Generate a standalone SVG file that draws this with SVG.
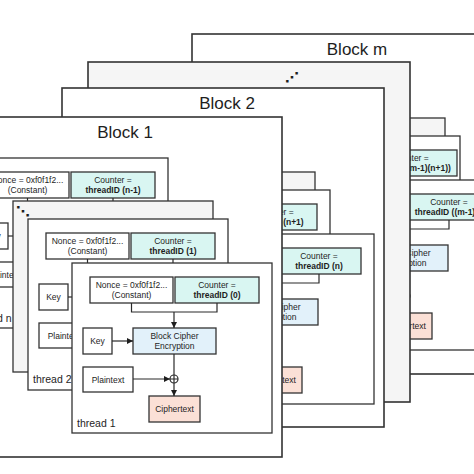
<svg xmlns="http://www.w3.org/2000/svg" width="474" height="474" viewBox="0 0 474 474">
<style>
.bx{stroke:#333;stroke-width:1.3}
.blkbox{stroke:#333;stroke-width:1.6}
.w{fill:#fff}.g{fill:#f5f5f5}.cnt{fill:#d9f6f2}.bc{fill:#e2f1fa}.ct{fill:#fbe0d6}
text{font-family:"Liberation Sans",Arial,sans-serif;fill:#1e1e1e}
.t{font-size:8.5px;text-anchor:middle}
.b{font-weight:bold}
.lbl{font-size:10.5px}
.blk{font-size:17px;text-anchor:middle}
.dots{font-family:"DejaVu Sans",sans-serif;font-size:14px;font-weight:bold}
.ln{fill:none;stroke:#2a2a2a;stroke-width:1.2}
.ar{fill:none;stroke:#2a2a2a;stroke-width:1.2;marker-end:url(#ah)}
</style>
<defs>
<marker id="ah" viewBox="0 0 10 10" refX="10" refY="5" markerWidth="6" markerHeight="6" markerUnits="userSpaceOnUse" orient="auto"><path d="M0,0 L10,5 L0,10 z" fill="#1e1e1e"/></marker>
</defs>

<!-- Block m -->
<g id="block-m" transform="translate(192,34)">
  <rect class="blkbox w" x="0" y="0" width="322" height="340"/>
  <text class="blk" x="165" y="21">Block m</text>
  <g id="bm-thread-dots" transform="translate(53,84)"><rect class="bx g" x="0" y="0" width="200" height="170"/></g>
  <g id="bm-thread-2" transform="translate(68,102)">
    <rect class="bx w" x="0" y="0" width="200" height="170"/>
    <rect class="bx cnt" x="107" y="14" width="90" height="26"/>
    <text class="t" x="150" y="25">Counter =</text>
    <text class="t b" x="149" y="35">threadID ((m-1)(n+1))</text>
  </g>
  <g id="bm-thread-1" transform="translate(112,146)">
    <rect class="bx w" x="0" y="0" width="200" height="170"/>
    <rect class="bx cnt" x="103" y="14" width="84" height="26"/>
    <text class="t" x="145" y="25">Counter =</text>
    <text class="t b" x="145" y="35">threadID ((m-1)n)</text>
    <path class="ln" d="M59.5,40 V49 H145 V40"/>
    <rect class="bx bc" x="61" y="65" width="83" height="26"/>
    <text class="t" x="102.5" y="76">Block Cipher</text>
    <text class="t" x="102.5" y="86">Encryption</text>
    <circle class="ln" cx="102" cy="116" r="4"/>
    <rect class="bx ct" x="77" y="133" width="51" height="26"/>
    <text class="t" x="102.5" y="149">Ciphertext</text>
  </g>
</g>

<!-- intermediate blocks -->
<g id="block-dots">
  <rect class="blkbox g" x="88" y="62" width="322" height="340"/>
  <text class="dots" x="285" y="82">⋰</text>
</g>

<!-- Block 2 -->
<g id="block-2" transform="translate(62,88)">
  <rect class="blkbox w" x="0" y="0" width="322" height="339"/>
  <text class="blk" x="165" y="21">Block 2</text>
  <g id="b2-thread-dots" transform="translate(53,84)"><rect class="bx g" x="0" y="0" width="200" height="170"/></g>
  <g id="b2-thread-2" transform="translate(68,102)">
    <rect class="bx w" x="0" y="0" width="200" height="170"/>
    <rect class="bx cnt" x="103" y="14" width="84" height="26"/>
    <text class="t" x="145" y="25">Counter =</text>
    <text class="t b" x="145" y="35">threadID (n+1)</text>
  </g>
  <g id="b2-thread-1" transform="translate(112,146)">
    <rect class="bx w" x="0" y="0" width="200" height="170"/>
    <rect class="bx cnt" x="103" y="14" width="84" height="26"/>
    <text class="t" x="145" y="25">Counter =</text>
    <text class="t b" x="145" y="35">threadID (n)</text>
    <path class="ln" d="M59.5,40 V49 H145 V40"/>
    <rect class="bx bc" x="61" y="65" width="83" height="26"/>
    <text class="t" x="102.5" y="76">Block Cipher</text>
    <text class="t" x="102.5" y="86">Encryption</text>
    <rect class="bx ct" x="77" y="133" width="51" height="26"/>
    <text class="t" x="102.5" y="149">Ciphertext</text>
  </g>
</g>

<!-- Block 1 -->
<g id="block-1" transform="translate(-40,117)">
  <rect class="blkbox w" x="0" y="0" width="322" height="340"/>
  <text class="blk" x="165" y="21">Block 1</text>

  <g id="b1-thread-n" transform="translate(8,41)">
    <rect class="bx w" x="0" y="0" width="200" height="170"/>
    <rect class="bx w" x="18" y="14" width="83" height="26"/>
    <text class="t" x="59.5" y="25">Nonce = 0xf0f1f2...</text>
    <text class="t" x="59.5" y="35">(Constant)</text>
    <rect class="bx cnt" x="103" y="14" width="84" height="26"/>
    <text class="t" x="145" y="25">Counter =</text>
    <text class="t b" x="145" y="35">threadID (n-1)</text>
    <path class="ln" d="M59.5,40 V49 H145 V40"/>
    <rect class="bx w" x="11" y="65" width="29" height="26"/>
    <text class="t" x="25.5" y="81">Key</text>
    <path class="ln" d="M40,78 H61"/>
    <rect class="bx w" x="11" y="104" width="50" height="25"/>
    <text class="t" x="36" y="119.5">Plaintext</text>
    <text class="lbl" x="5" y="164">thread n</text>
  </g>

  <g id="b1-thread-dots" transform="translate(53,84)">
    <rect class="bx g" x="0" y="0" width="200" height="171"/>
    <text class="dots" x="3" y="15">⋱</text>
  </g>

  <g id="b1-thread-2" transform="translate(68,102)">
    <rect class="bx w" x="0" y="0" width="200" height="171"/>
    <rect class="bx w" x="18" y="14" width="83" height="26"/>
    <text class="t" x="59.5" y="25">Nonce = 0xf0f1f2...</text>
    <text class="t" x="59.5" y="35">(Constant)</text>
    <rect class="bx cnt" x="103" y="14" width="84" height="26"/>
    <text class="t" x="145" y="25">Counter =</text>
    <text class="t b" x="145" y="35">threadID (1)</text>
    <path class="ln" d="M59.5,40 V49 H145 V40"/>
    <rect class="bx w" x="11" y="65" width="29" height="26"/>
    <text class="t" x="25.5" y="81">Key</text>
    <path class="ln" d="M40,78 H61"/>
    <rect class="bx w" x="11" y="104" width="50" height="25"/>
    <text class="t" x="36" y="119.5">Plaintext</text>
    <text class="lbl" x="5" y="164">thread 2</text>
  </g>

  <g id="b1-thread-1" transform="translate(112,146)">
    <rect class="bx w" x="0" y="0" width="200" height="170"/>
    <g id="t1-nonce"><rect class="bx w" x="18" y="14" width="83" height="26"/>
      <text class="t" x="59.5" y="25">Nonce = 0xf0f1f2...</text>
      <text class="t" x="59.5" y="35">(Constant)</text></g>
    <g id="t1-counter"><rect class="bx cnt" x="103" y="14" width="84" height="26"/>
      <text class="t" x="145" y="25">Counter =</text>
      <text class="t b" x="145" y="35">threadID (0)</text></g>
    <g id="t1-key"><rect class="bx w" x="11" y="65" width="29" height="26"/>
      <text class="t" x="25.5" y="81">Key</text></g>
    <g id="t1-bce"><rect class="bx bc" x="61" y="65" width="83" height="26"/>
      <text class="t" x="102.5" y="76">Block Cipher</text>
      <text class="t" x="102.5" y="86">Encryption</text></g>
    <g id="t1-plain"><rect class="bx w" x="11" y="104" width="50" height="25"/>
      <text class="t" x="36" y="119.5">Plaintext</text></g>
    <g id="t1-xor"><circle class="ln" cx="102" cy="116" r="4"/>
      <path class="ln" d="M98,116 H106 M102,112 V120"/></g>
    <g id="t1-cipher"><rect class="bx ct" x="77" y="133" width="51" height="26"/>
      <text class="t" x="102.5" y="149">Ciphertext</text></g>
    <g id="t1-connectors">
      <path class="ln" d="M59.5,40 V49 H145 V40"/>
      <path class="ar" d="M102,49 V65"/>
      <path class="ar" d="M40,78 H61"/>
      <path class="ln" d="M102,91 V112"/>
      <path class="ar" d="M61,116 H98"/>
      <path class="ar" d="M102,120 V133"/>
    </g>
    <text class="lbl" x="5" y="164">thread 1</text>
  </g>
</g>
</svg>
